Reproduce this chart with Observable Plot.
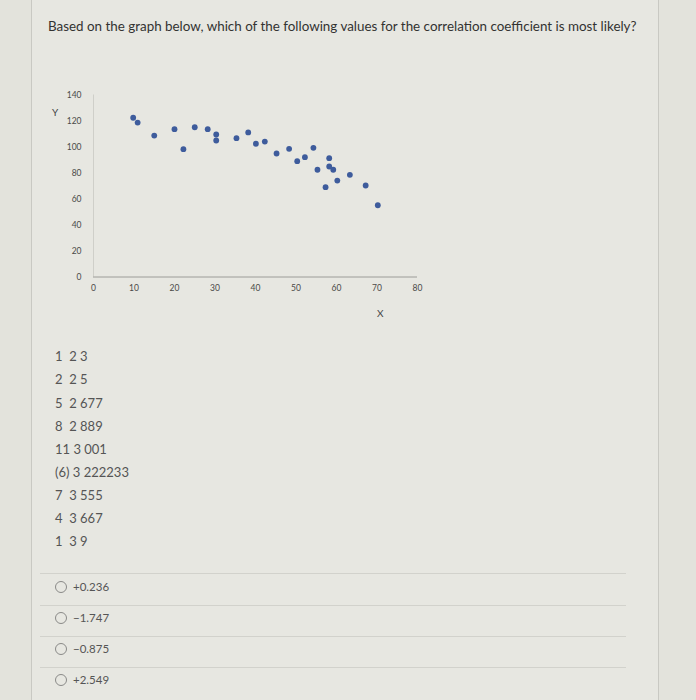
<!DOCTYPE html>
<html>
<head>
<meta charset="utf-8">
<script src="https://cdn.jsdelivr.net/npm/d3@7"></script>
<script src="https://cdn.jsdelivr.net/npm/@observablehq/plot@0.6"></script>
<style>
  html, body { margin: 0; padding: 0; }
  body { width: 696px; height: 700px; background: #e3e3dc; font-family: Lato, "Open Sans", sans-serif; color: #4a4a48; position: relative; overflow: hidden; }
  .panel { position: absolute; left: 31px; top: 0; width: 626px; height: 700px; border-left: 1px solid #c9c9c3; border-right: 1px solid #c9c9c3; background: #e7e7e1; }
  .q { position: absolute; left: 48px; top: 18px; font-size: 13.4px; color: #333331; white-space: nowrap; }
  #chart { position: absolute; left: 0; top: 60px; }
  .lbl { position: absolute; font-size: 10px; color: #444; }
  .stem { position: absolute; left: 55px; font-size: 13px; color: #555; white-space: pre; }
  .sep { position: absolute; left: 40px; width: 586px; height: 0; border-top: 1px solid #d2d2cc; }
  .opt { position: absolute; left: 55px; font-size: 11.5px; color: #555; display: flex; align-items: center; }
  .opt span.r { display: inline-block; width: 10px; height: 10px; border: 1px solid #8a8a88; border-radius: 50%; margin-right: 6px; }
</style>
</head>
<body>
<div class="panel"></div>
<div class="q">Based on the graph below, which of the following values for the correlation coefficient is most likely?</div>
<div id="chart"></div>
<div class="lbl" style="left:52px;top:106px;">Y</div>
<div class="lbl" style="left:377px;top:307px;">X</div>
<div id="stems"></div>
<div id="opts"></div>
<script>
const xs = [9.8, 10.9, 15.0, 20.0, 22.2, 25.0, 28.2, 30.3, 30.3, 35.3, 38.2, 40.1, 42.3, 45.2, 48.3, 50.3, 52.2, 54.3, 55.3, 58.2, 58.2, 59.2, 57.3, 60.2, 63.3, 67.2, 70.2];
const ys = [122.5, 118.8, 108.8, 113.7, 98.3, 115.2, 113.7, 109.6, 105.0, 106.8, 111.2, 102.5, 104.2, 95.0, 98.6, 89.1, 92.2, 99.4, 82.5, 91.4, 85.0, 82.5, 69.1, 74.2, 78.6, 70.4, 55.2];
const xTicks = [0, 10, 20, 30, 40, 50, 60, 70, 80];
const yTicks = [0, 20, 40, 60, 80, 100, 120, 140];
const stemLines = ["1  2 3", "2  2 5", "5  2 677", "8  2 889", "11 3 001", "(6) 3 222233", "7  3 555", "4  3 667", "1  3 9"];
const options = ["+0.236", "\u22121.747", "\u22120.875", "+2.549"];

const pts = xs.map((x, i) => ({x, y: ys[i]}));

const plot = Plot.plot({
  width: 460,
  height: 260,
  marginLeft: 93,
  marginRight: 43,
  marginTop: 34.5,
  marginBottom: 43.5,
  style: {background: "transparent", fontFamily: "Lato, sans-serif", fontSize: "8.5px", color: "#4a4a48"},
  x: {domain: [0, 80], ticks: xTicks, tickSize: 0, tickPadding: 8, label: null},
  y: {domain: [0, 140], ticks: yTicks, tickSize: 0, tickPadding: 12, label: null},
  marks: [
    Plot.ruleX([0], {stroke: "#cfcfc9", strokeWidth: 1}),
    Plot.ruleY([0], {stroke: "#9c9c98", strokeWidth: 1}),
    Plot.dot(pts, {x: "x", y: "y", r: 2.9, fill: "#3e5c9c", stroke: "none"})
  ]
});
document.getElementById("chart").appendChild(plot);

const stemTops = [348, 371, 395, 418, 441, 464, 487, 510, 533];
const sc = document.getElementById("stems");
stemLines.forEach((s, i) => {
  const d = document.createElement("div");
  d.className = "stem";
  d.style.top = stemTops[i] + "px";
  d.textContent = s;
  sc.appendChild(d);
});

const oc = document.getElementById("opts");
[573, 605, 636, 667].forEach(t => {
  const d = document.createElement("div");
  d.className = "sep";
  d.style.top = t + "px";
  oc.appendChild(d);
});
const optTops = [580, 611, 642, 673];
options.forEach((o, i) => {
  const d = document.createElement("div");
  d.className = "opt";
  d.style.top = optTops[i] + "px";
  d.innerHTML = '<span class="r"></span>' + o;
  oc.appendChild(d);
});
</script>
</body>
</html>
